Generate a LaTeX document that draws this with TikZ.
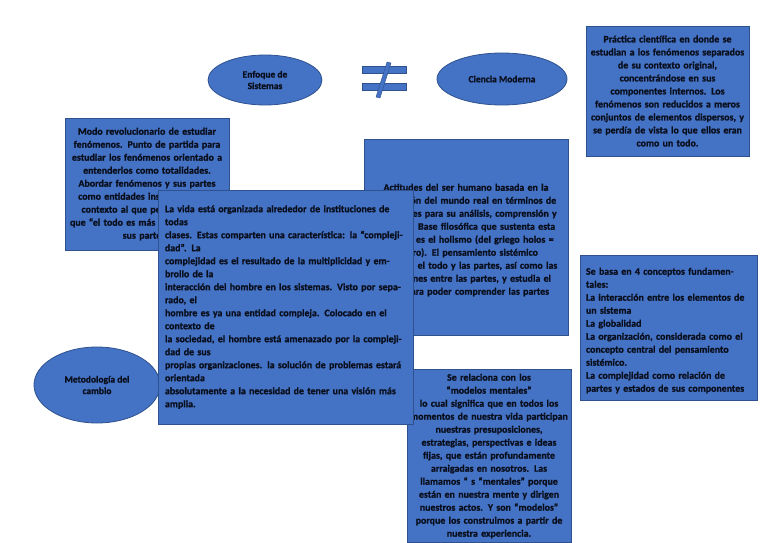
\documentclass[tikz,border=0pt]{standalone}
\usepackage{fontspec}
\setmainfont{Carlito}[FakeBold=1.2]
\usetikzlibrary{shapes.geometric}
\definecolor{bfill}{HTML}{4472C4}
\definecolor{bline}{HTML}{2F528F}
\definecolor{tcol}{HTML}{0A0F1E}
\begin{document}
\begin{tikzpicture}[x=1pt,y=-1pt,
  box/.style={draw=bline,fill=bfill,line width=0.8pt,inner sep=0pt,text=tcol,
    font=\fontsize{9.9}{13}\selectfont\bfseries},
  oval/.style={ellipse,draw=bline,fill=bfill,line width=0.8pt,text=tcol,inner sep=0pt,
    font=\fontsize{9.5}{11.5}\selectfont\bfseries,align=center}]
\useasboundingbox (0,0) rectangle (768,543);
\fill[white] (0,0) rectangle (768,543);
% ellipses
\node[oval,minimum width=114,minimum height=50] (enf) at (265,80) {Enfoque de\\Sistemas};
\node[oval,minimum width=130,minimum height=52] (cien) at (502,79) {Ciencia Moderna};
\node[oval,minimum width=126,minimum height=76] (met) at (97,385) {Metodología del\\cambio};
% not equal sign
\node[fill=bfill,draw=bline,minimum width=44,minimum height=7,inner sep=0pt] (bar1) at (384,70) {};
\node[fill=bfill,draw=bline,minimum width=44,minimum height=7,inner sep=0pt] (bar2) at (384,87) {};
\fill[bfill,draw=bline] (387,62) -- (391,63) -- (380,98) -- (376,97) -- cycle;
% boxes
\node[box,minimum width=163,minimum height=130,text width=160,align=center] (prac) at (667.5,91) {Práctica científica en donde se\\estudian a los fenómenos separados\\de su contexto original,\\concentrándose en sus\\componentes internos. Los\\fenómenos son reducidos a meros\\conjuntos de elementos dispersos, y\\se perdía de vista lo que ellos eran\\como un todo.};
\node[box,minimum width=164,minimum height=132,text width=160,align=center] (modo) at (147,184) {Modo revolucionario de estudiar\\fenómenos. Punto de partida para\\estudiar los fenómenos orientado a\\entenderlos como totalidades.\\Abordar fenómenos y sus partes\\como entidades inseparables del\\contexto al que pertenecen, ya\\que ``el todo es más que la suma de\\sus partes''.};
\node[box,minimum width=204,minimum height=196,text width=200,align=center] (acti) at (466,237) {\\Actitudes del ser humano basada en la\\percepción del mundo real en términos de\\totalidades para su análisis, comprensión y\\accionar. Base filosófica que sustenta esta\\posición es el holismo (del griego holos =\\entero). El pensamiento sistémico\\considera el todo y las partes, así como las\\conexiones entre las partes, y estudia el\\todo para poder comprender las partes};
\node[box,minimum width=177,minimum height=145,text width=165,align=left] (basa) at (668.5,327.5) {\\Se basa en 4 conceptos fundamentales:\\La interacción entre los elementos de\\un sistema\\La globalidad\\La organización, considerada como el\\concepto central del pensamiento\\sistémico.\\La complejidad como relación de\\partes y estados de sus componentes};
\node[box,minimum width=164,minimum height=173,text width=160,align=center] (mode) at (489,456) {Se relaciona con los “modelos mentales”\\lo cual significa que en todos los\\momentos de nuestra vida participan\\nuestras presuposiciones,\\estrategias, perspectivas e ideas\\fijas, que están profundamente\\arraigadas en nosotros. Las\\llamamos “ s “mentales” porque\\están en nuestra mente y dirigen\\nuestros actos. Y son “modelos”\\porque los construimos a partir de\\nuestra experiencia.};
\node[box,minimum width=255,minimum height=234,text width=241,align=left] (vida) at (285.5,307) {La vida está organizada alrededor de instituciones de todas\\clases. Estas comparten una característica: la “complejidad”. La\\complejidad es el resultado de la multiplicidad y embrollo de la\\interacción del hombre en los sistemas. Visto por separado, el\\hombre es ya una entidad compleja. Colocado en el contexto de\\la sociedad, el hombre está amenazado por la complejidad de sus\\propias organizaciones. la solución de problemas estará orientada\\absolutamente a la necesidad de tener una visión más amplia.};
\end{tikzpicture}
\end{document}
